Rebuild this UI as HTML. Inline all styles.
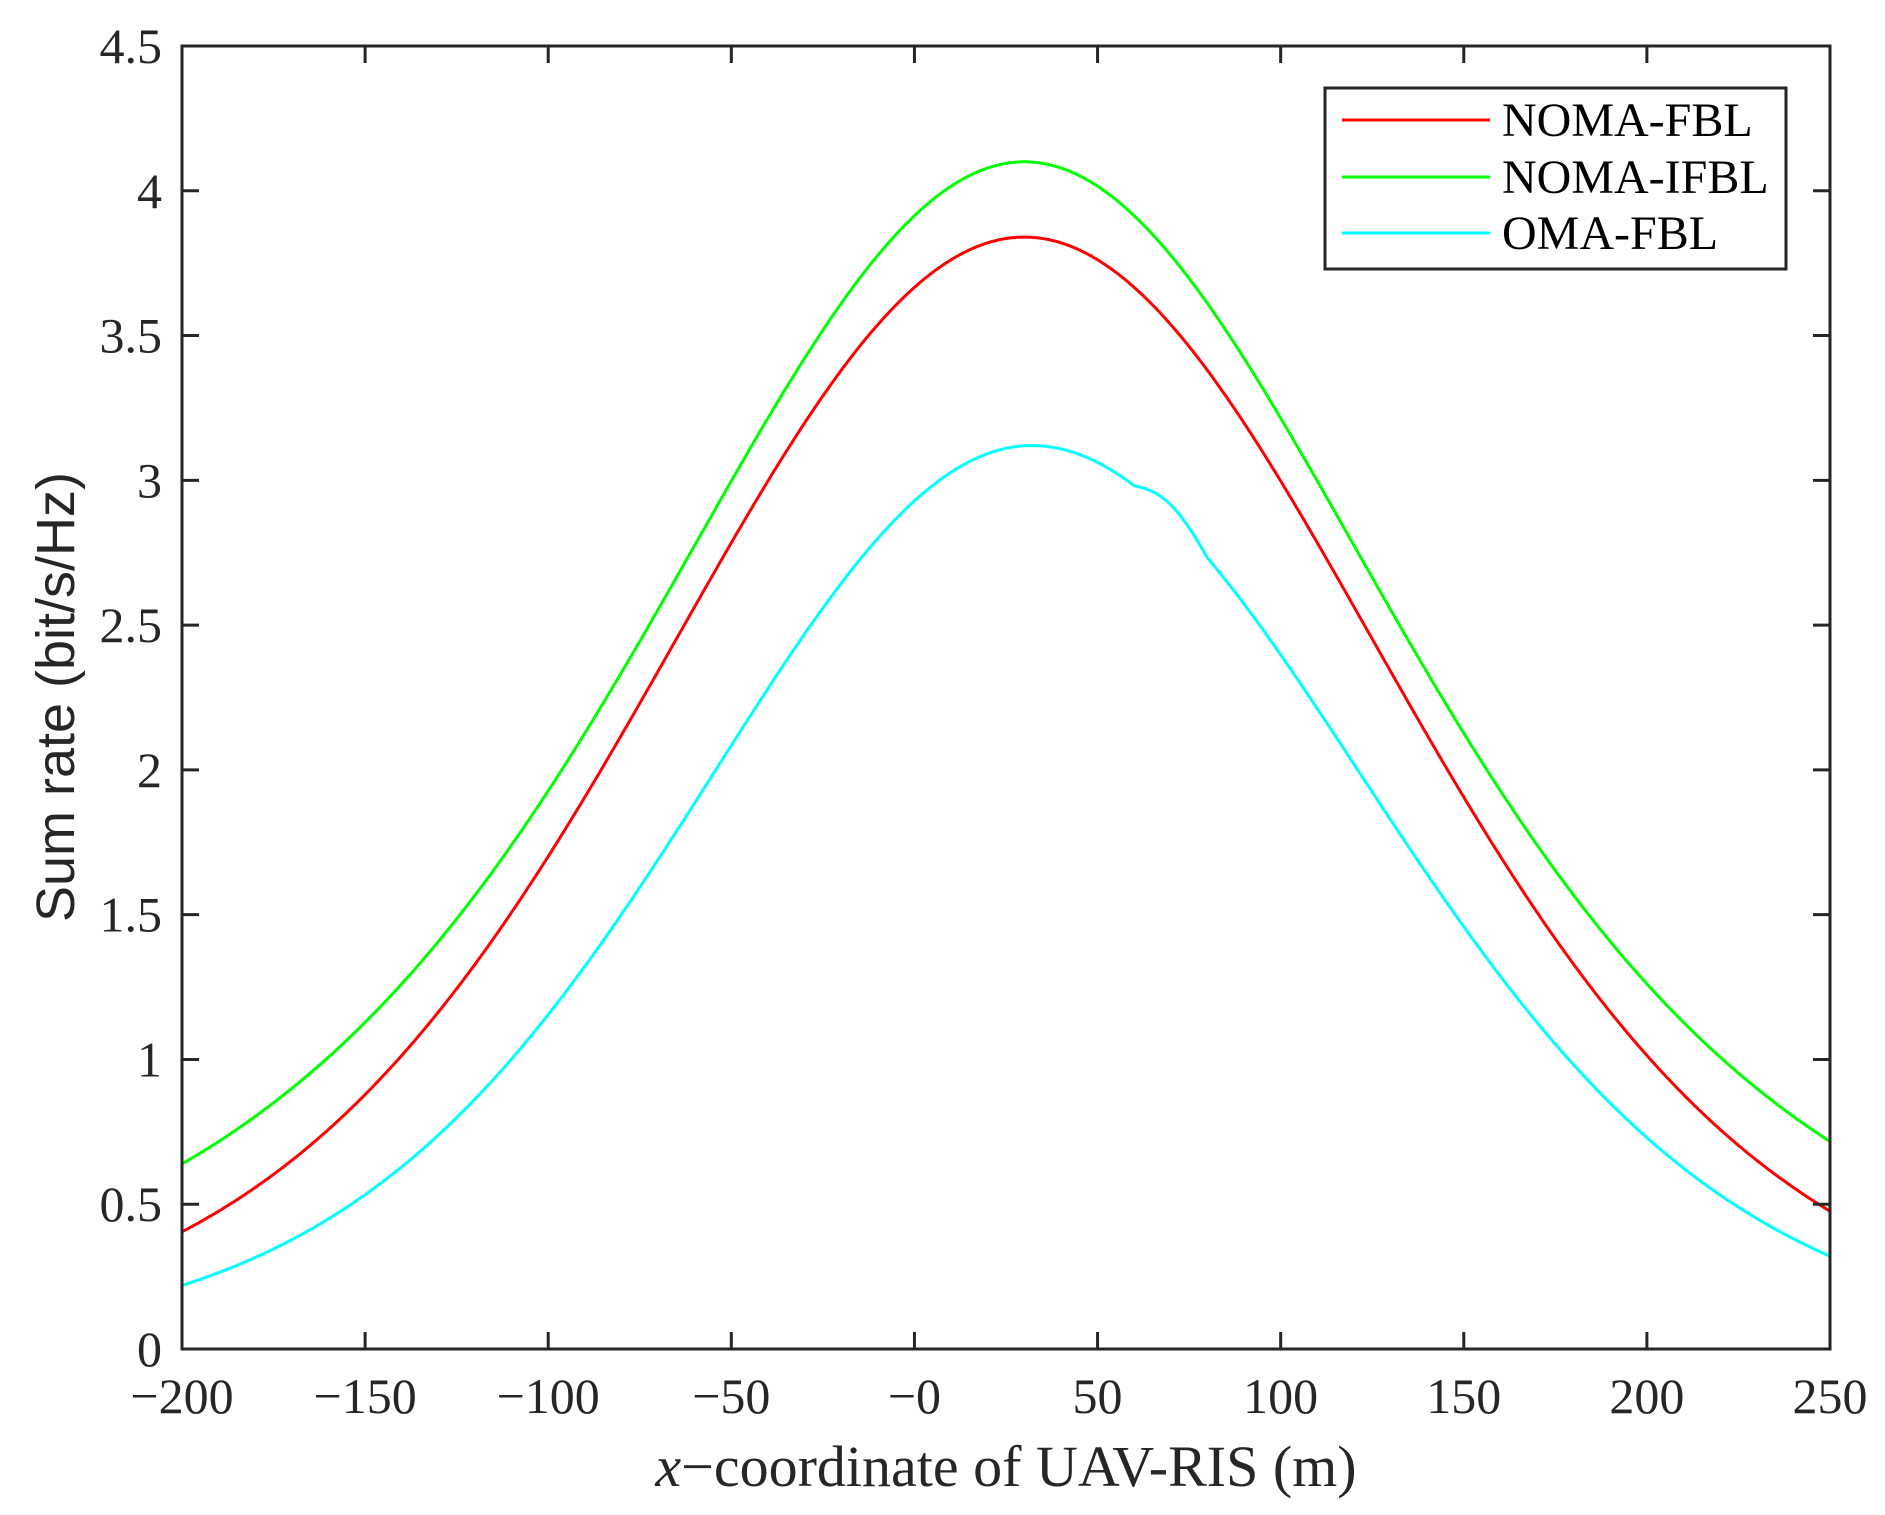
<!DOCTYPE html>
<html><head><meta charset="utf-8"><style>
html,body{margin:0;padding:0;background:#fff;}
svg{display:block;}
</style></head><body>
<svg id="s" width="1885" height="1515" xmlns="http://www.w3.org/2000/svg">
<rect width="1885" height="1515" fill="#fff"/>
<g id="curves" fill="none" stroke-width="3"></g>
<rect x="182" y="46" width="1648" height="1303" fill="none" stroke="#262626" stroke-width="3"/>
<g id="ticks" stroke="#262626" stroke-width="3"></g>
<g id="labels" font-family="Liberation Serif, serif" font-size="50" fill="#262626"></g>
<text x="0" y="0" transform="translate(74,697) rotate(-90)" text-anchor="middle" font-family="Liberation Sans, sans-serif" font-size="54" fill="#262626">Sum rate (bit/s/Hz)</text>
<text x="1006" y="1486" text-anchor="middle" font-family="Liberation Serif, serif" font-size="58" fill="#262626"><tspan font-style="italic">x</tspan>−coordinate of UAV-RIS (m)</text>
<rect x="1325" y="88" width="461" height="181" fill="#fff" stroke="#262626" stroke-width="3"/>
<g stroke-width="3">
<line x1="1342" y1="120" x2="1490" y2="120" stroke="#ff0000"/>
<line x1="1342" y1="177" x2="1490" y2="177" stroke="#00ff00"/>
<line x1="1342" y1="233" x2="1490" y2="233" stroke="#00ffff"/>
</g>
<g font-family="Liberation Serif, serif" font-size="48" fill="#000">
<text x="1502" y="136">NOMA-FBL</text>
<text x="1502" y="193">NOMA-IFBL</text>
<text x="1502" y="249">OMA-FBL</text>
</g>
</svg>
<script>
const NS="http://www.w3.org/2000/svg";
const X=x=>182+(x+200)/450*1648, Y=v=>1349-v/4.5*1303;
function el(t,a,p,txt){const e=document.createElementNS(NS,t);for(const k in a)e.setAttribute(k,a[k]);if(txt!==undefined)e.textContent=txt;p.appendChild(e);return e;}
const tk=document.getElementById('ticks'),lb=document.getElementById('labels');
for(let x=-200;x<=250;x+=50){const px=X(x);
 el('line',{x1:px,y1:1349,x2:px,y2:1332},tk);el('line',{x1:px,y1:46,x2:px,y2:63},tk);
 el('text',{x:px,y:1413,'text-anchor':'middle'},lb,(x<=0?'−':'')+Math.abs(x));}
for(let i=0;i<=9;i++){const v=i*0.5,py=Y(v);
 el('line',{x1:182,y1:py,x2:199,y2:py},tk);el('line',{x1:1830,y1:py,x2:1813,y2:py},tk);
 el('text',{x:162,y:py+17,'text-anchor':'end'},lb,String(v));}
const f=(A,c,w,x,p)=>A*Math.pow(1+((x-c)/w)**2,-(p||6));
const fns={
"#ff0000":x=>f(3.84,30,341,x),
"#00ff00":x=>f(4.10,30,219,x,2.5),
"#00ffff":x=>{let v=f(3.12,32,x<32?311:321,x);if(x>60&&x<80)v+=0.045*Math.sin(Math.PI*(x-60)/20);return v;}};
const g=document.getElementById('curves');
for(const c in fns){let d='';for(let x=-200;x<=250.001;x+=0.5){d+=(d?'L':'M')+X(x).toFixed(1)+' '+Y(fns[c](x)).toFixed(1);}
 el('path',{d:d,stroke:c,'stroke-linejoin':'round'},g);}
</script>
</body></html>
